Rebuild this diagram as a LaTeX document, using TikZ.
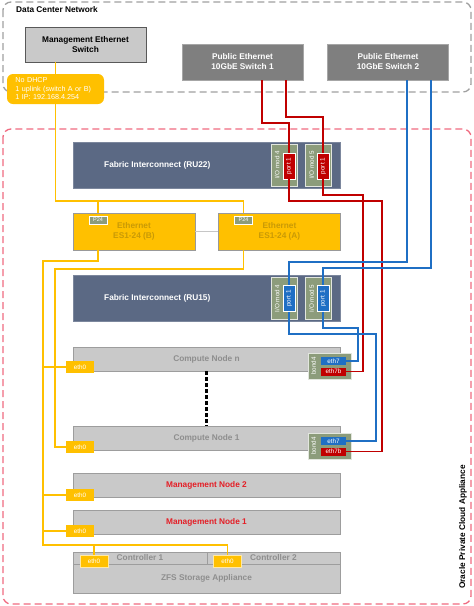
\documentclass[tikz,border=0pt]{standalone}
\usepackage{graphicx}
\usepackage{fontspec}
\setmainfont{Liberation Sans}
\usepackage{tikz}
\usetikzlibrary{positioning}

\definecolor{slate}{HTML}{5B6984}
\definecolor{sage}{HTML}{8C9C7B}
\definecolor{amber}{HTML}{FFC000}
\definecolor{darkamber}{HTML}{C99A06}
\definecolor{nodegray}{HTML}{C9C9C9}
\definecolor{edgegray}{HTML}{9D9D9D}
\definecolor{textgray}{HTML}{8E8E8E}
\definecolor{pubgray}{HTML}{7F7F7F}
\definecolor{wirered}{HTML}{C00000}
\definecolor{wireblue}{HTML}{1F6FC4}
\definecolor{dashred}{HTML}{F06A80}
\definecolor{mgmtred}{HTML}{E41E26}

\begin{document}
\begin{tikzpicture}[x=1pt, y=-1pt,
  lbl/.style={font=\fontsize{8.3}{10}\selectfont\bfseries},
  tiny/.style={font=\fontsize{6.3}{7}\selectfont},
  box/.style={lbl, draw=edgegray, fill=nodegray, line width=0.8, inner sep=0, align=center},
  row/.style={box, text=textgray, minimum width=267, minimum height=24},
  pub/.style={box, fill=pubgray, draw=gray!70, text=white, minimum width=121, minimum height=36},
  fabric/.style={box, fill=slate, draw=slate!80, minimum width=267, minimum height=46},
  esw/.style={box, fill=amber, draw=gray!80, text=darkamber, minimum width=122, minimum height=37},
  iomod/.style={fill=sage, draw=white!75!sage, line width=0.8, minimum width=26, minimum height=42, inner sep=0},
  bondbox/.style={iomod, minimum width=43, minimum height=26},
  port/.style={tiny, text=white, draw=white!60, line width=0.4, minimum width=12, minimum height=26, inner sep=0},
  tag/.style={tiny, text=white, inner sep=0, minimum width=25, minimum height=8},
  ethtag/.style={tiny, text=white, fill=amber, inner sep=0, minimum width=28, minimum height=12},
  p24/.style={font=\fontsize{5.5}{6}\selectfont, text=white, fill=sage, draw=white, line width=0.5, inner sep=0, minimum width=18, minimum height=8},
  wtxt/.style={tiny, text=white, inner sep=0},
  yline/.style={amber, line width=1.5},
  rline/.style={wirered, line width=1.5},
  bline/.style={wireblue, line width=1.5},
  frame/.style={line width=1.3, dash pattern=on 7pt off 4pt, rounded corners=8}]
\useasboundingbox (0,0) rectangle (474,606);

% frames
\draw[frame, gray!75] (3,2) rectangle (471,92);
\draw[frame, dashred] (3,129) rectangle (471,604);
\node[lbl, anchor=west, inner sep=0] (dcn) at (16,10) {Data Center Network};
\node[lbl, rotate=90, inner sep=0] (opca) at (463,527) {Oracle Private Cloud Appliance};

% switches
\node[box, draw=black!65, minimum width=121, minimum height=35] (mgmtsw) at (85.5,44.5) {Management Ethernet\\Switch};
\node[pub] (pub1) at (242.5,62) {Public Ethernet\\10GbE Switch 1};
\node[pub] (pub2) at (388,62) {Public Ethernet\\10GbE Switch 2};
\node[fill=amber, rounded corners=6, text=white, align=left, text width=80, inner xsep=8.5, inner ysep=0, minimum height=30,
  font=\fontsize{7.2}{8.5}\selectfont] (note) at (55.5,89) {No DHCP\\1 uplink (switch A or B)\\1 IP: 192.168.4.254};

% fabric interconnects
\node[fabric] (fi22) at (206.5,165) {};
\node[lbl, text=white, anchor=west, inner sep=0] (fi22t) at (104,165) {Fabric Interconnect (RU22)};
\node[iomod] (m22a) at (284,165) {};
\node[iomod] (m22b) at (318.5,165) {};
\node[wtxt] (m22at) at (277,165) {\rotatebox{90}{I/O mod 4}};
\node[wtxt] (m22bt) at (311.5,165) {\rotatebox{90}{I/O mod 5}};
\node[port, fill=wirered] (p22a) at (289,166) {\rotatebox{90}{port 1}};
\node[port, fill=wirered] (p22b) at (323,166) {\rotatebox{90}{port 1}};

\node[fabric] (fi15) at (206.5,298.5) {};
\node[lbl, text=white, anchor=west, inner sep=0] (fi15t) at (104,298.5) {Fabric Interconnect (RU15)};
\node[iomod] (m15a) at (284,298.5) {};
\node[iomod] (m15b) at (318.5,298.5) {};
\node[wtxt] (m15at) at (277,298.5) {\rotatebox{90}{I/O mod 4}};
\node[wtxt] (m15bt) at (311.5,298.5) {\rotatebox{90}{I/O mod 5}};
\node[port, fill=wireblue] (p15a) at (289,298.5) {\rotatebox{90}{port 1}};
\node[port, fill=wireblue] (p15b) at (323,298.5) {\rotatebox{90}{port 1}};

% ethernet switches
\node[esw] (esb) at (134,231.5) {Ethernet\\ES1-24 (B)};
\node[esw] (esa) at (279.5,231.5) {Ethernet\\ES1-24 (A)};
\node[p24] (p24b) at (98,220) {P24};
\node[p24] (p24a) at (243.5,220) {P24};

% compute and management nodes
\node[row] (cnn) at (206.5,359) {Compute Node n};
\node[row] (cn1) at (206.5,438) {Compute Node 1};
\node[row, text=mgmtred] (mn2) at (206.5,485) {Management Node 2};
\node[row, text=mgmtred] (mn1) at (206.5,522) {Management Node 1};
\node[ethtag] (e0n) at (80,367) {eth0};
\node[ethtag] (e01) at (80,447) {eth0};
\node[ethtag] (e0m2) at (80,495) {eth0};
\node[ethtag] (e0m1) at (80,531) {eth0};

\node[bondbox] (bdn) at (329.5,366) {};
\node[wtxt] (bdnt) at (313.5,366) {\rotatebox{90}{bond4}};
\node[tag, fill=wireblue] (e7n) at (333.5,361) {eth7};
\node[tag, fill=wirered] (e7bn) at (333.5,371.5) {eth7b};
\node[bondbox] (bd1) at (329.5,446) {};
\node[wtxt] (bd1t) at (313.5,446) {\rotatebox{90}{bond4}};
\node[tag, fill=wireblue] (e71) at (333.5,441) {eth7};
\node[tag, fill=wirered] (e7b1) at (333.5,451.5) {eth7b};

\draw[line width=2.6, dash pattern=on 3.5pt off 2.5pt] (cnn.south) -- (cn1.north);

% storage
\node[box, text=textgray, minimum width=134, minimum height=12] (ctl1) at (140,558) {Controller 1};
\node[box, text=textgray, minimum width=133, minimum height=12] (ctl2) at (273.5,558) {Controller 2};
\node[box, text=textgray, minimum width=267, minimum height=29] (zfs) at (206.5,578.5) {ZFS Storage Appliance};
\node[ethtag, draw=amber!35, line width=0.8] (zeth1) at (94,561.5) {eth0};
\node[ethtag, draw=amber!35, line width=0.8] (zeth2) at (227.5,561.5) {eth0};

% management network
\coordinate (ytop) at (56,201);
\coordinate (ybl) at (43,261);
\coordinate (ybr) at (55,269);
\coordinate (ybot) at (43,545);
\draw[yline] (mgmtsw.south -| note) -- (note.north);
\draw[yline] (note.south) -- (note.south |- ytop) -| (p24a |- esa.north);
\draw[yline] (p24b |- ytop) -- (p24b |- esb.north);
\draw[yline] (p24b |- esb.south) |- (ybl) -- (ybot) -| (zeth2.north);
\draw[yline] (ybot -| zeth1) -- (zeth1.north);
\draw[yline] (p24a |- esa.south) |- (ybr) |- (e01.west);
\foreach \t in {e0n,e0m2,e0m1}
  \draw[yline] (ybl |- \t) -- (\t.west);
\draw[gray!45, line width=1.2] (esb.east) -- (esa.west);

% public network
\coordinate (r1) at (262,123);
\coordinate (r2) at (286,117);
\coordinate (r3) at (382,201);
\coordinate (r4) at (363,195);
\draw[rline] (pub1.south -| r1) -- (r1) -| (p22a.north);
\draw[rline] (pub1.south -| r2) -- (r2) -| (p22b.north);
\draw[rline] (p22a.south) |- (r3) |- (e7b1.east);
\draw[rline] (p22b.south) |- (r4) |- (e7bn.east);

\coordinate (b1) at (407,262);
\coordinate (b2) at (431,268);
\coordinate (b3) at (376,334);
\coordinate (b4) at (358,328);
\draw[bline] (pub2.south -| b1) -- (b1) -| (p15a.north);
\draw[bline] (pub2.south -| b2) -- (b2) -| (p15b.north);
\draw[bline] (p15a.south) |- (b3) |- (e71.east);
\draw[bline] (p15b.south) |- (b4) |- (e7n.east);
\end{tikzpicture}
\end{document}
